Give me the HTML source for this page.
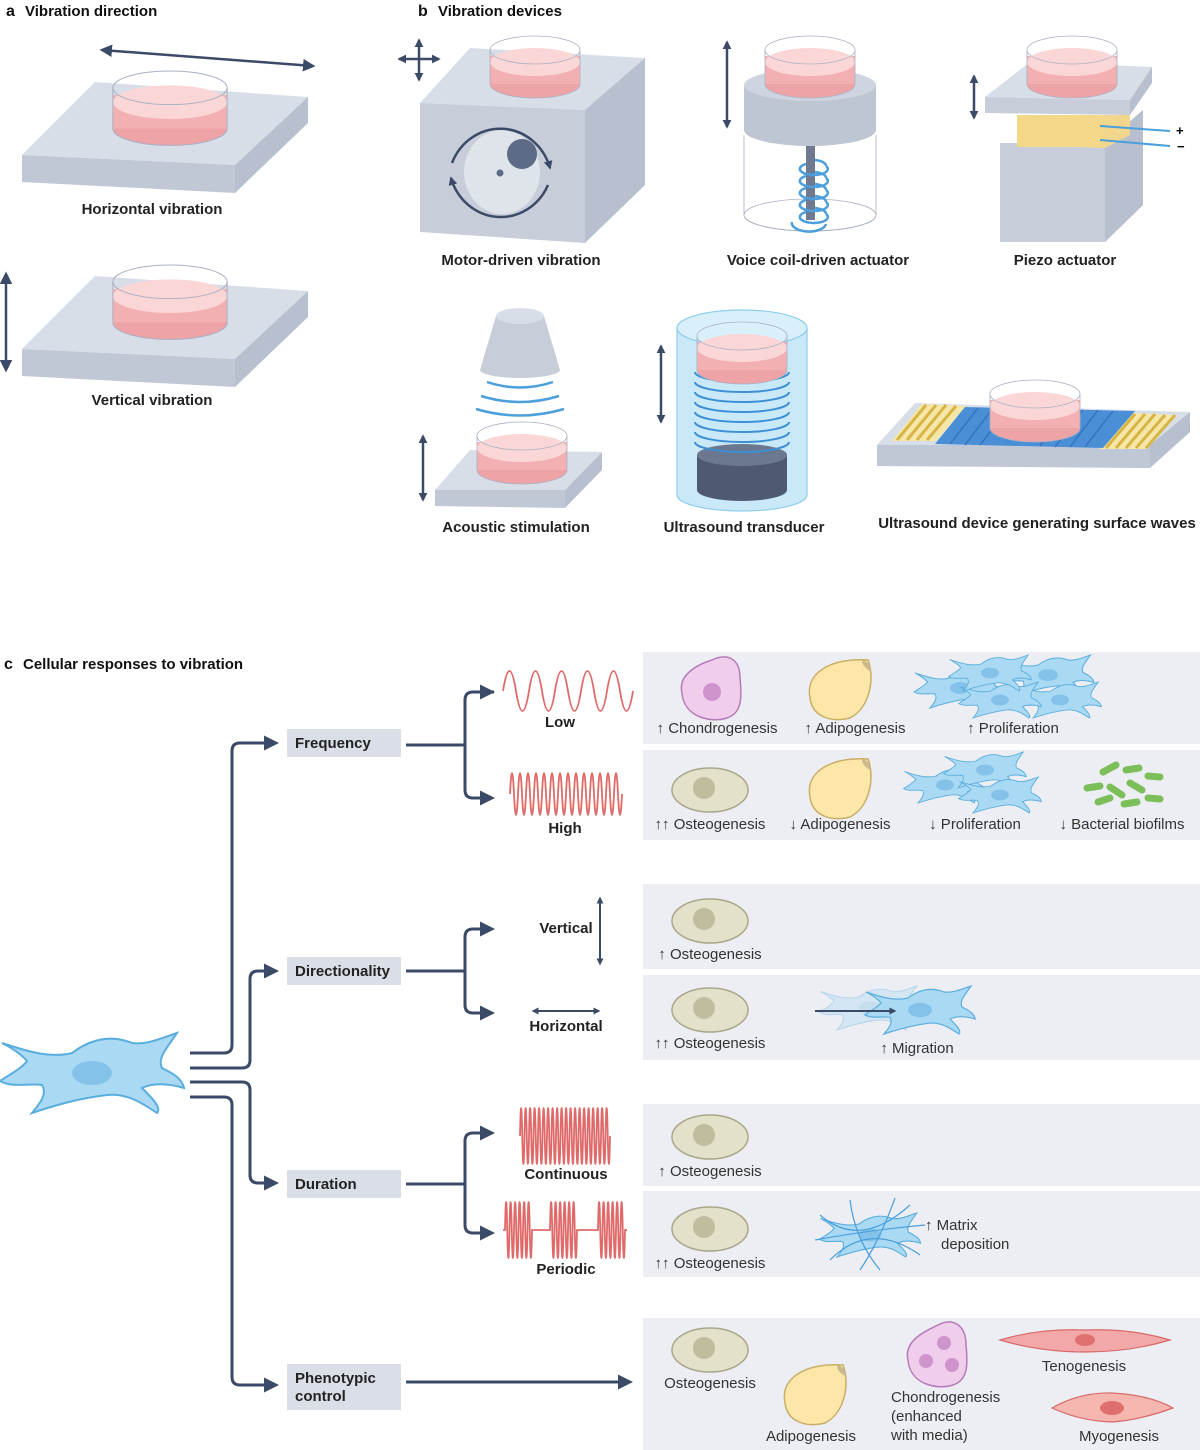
<!DOCTYPE html>
<html><head><meta charset="utf-8"><style>
html,body{margin:0;padding:0;background:#fff}
svg{display:block}
text{font-family:"Liberation Sans",sans-serif}
.b{font-weight:bold;font-size:15px;fill:#222}
.h{font-weight:bold;font-size:16px;fill:#111}
.l{font-size:15px;fill:#333}
.bx{font-weight:bold;font-size:15px;fill:#222}
</style></head><body>
<svg width="1200" height="1450" viewBox="0 0 1200 1450" xmlns="http://www.w3.org/2000/svg">
<defs>
<marker id="ah" viewBox="0 0 10 10" refX="8" refY="5" markerWidth="5" markerHeight="5" orient="auto-start-reverse"><path d="M0,0L10,5L0,10z" fill="#3b4a66"/></marker>
<marker id="am" viewBox="0 0 10 10" refX="8" refY="5" markerWidth="3.5" markerHeight="3.5" orient="auto-start-reverse"><path d="M0,0L10,5L0,10z" fill="#3b4a66"/></marker>
<g id="dish">
<ellipse cx="0" cy="28" rx="45" ry="14" fill="#eea3a6"/>
<rect x="-45" y="0" width="90" height="28" fill="#f2b0b2"/>
<ellipse cx="0" cy="6" rx="45" ry="14" fill="#fbd6d6"/>
<path d="M-45,-6 V28 A45,14 0 0 0 45,28 V-6" fill="none" stroke="#a9b0c4" stroke-width="0.8"/>
<ellipse cx="0" cy="-6" rx="45" ry="14" fill="none" stroke="#a9b0c4" stroke-width="0.8"/>
</g>
<g id="fib">
<path d="M-90,-30 C-60,-20 -40,-15 -20,-20 C0,-35 20,-38 40,-30 C55,-28 70,-35 85,-40 C75,-25 65,-15 70,-5 C80,0 90,5 92,15 C75,10 60,10 50,15 C60,25 70,35 65,40 C50,30 35,20 15,22 C-10,25 -30,30 -60,40 C-50,28 -45,20 -50,12 C-65,10 -80,15 -92,8 C-80,0 -70,-5 -65,-12 C-72,-20 -80,-25 -90,-30 Z" fill="#a9d9f3" stroke="#5aaede" stroke-width="2"/>
<ellipse cx="0" cy="0" rx="20" ry="12" fill="#85c2ea"/>
</g>
<g id="ost"><ellipse cx="0" cy="0" rx="38" ry="22" fill="#e4e1ca" stroke="#aaa78a" stroke-width="1.5"/><circle cx="-6" cy="-2" r="11" fill="#c0bc9e"/></g>
<g id="adi"><path d="M-30,10 C-35,-15 -10,-30 28,-28 C35,-10 30,20 10,30 C-10,35 -28,28 -30,10Z" fill="#fce7a8" stroke="#c9ae66" stroke-width="1.5"/><path d="M22,-28 C28,-27 31,-22 31,-16 C26,-20 22,-22 22,-28Z" fill="#c9b98c"/></g>
<g id="cho"><path d="M-30,5 C-35,-15 -10,-25 0,-28 C15,-35 28,-30 28,-10 C30,10 30,25 15,30 C0,35 -28,30 -30,5Z" fill="#efcdeb" stroke="#b77ab8" stroke-width="1.5"/><circle cx="0" cy="4" r="9" fill="#cf94cc"/></g>
</defs>

<!-- ===== a ===== -->
<text x="6" y="16" class="h">a</text><text x="25" y="16" class="h" style="font-size:15px">Vibration direction</text>
<g>
<polygon points="95,82 308,97 235,165 22,155" fill="#d8dee8"/>
<polygon points="22,155 235,165 235,193 22,182" fill="#c0c7d5"/>
<polygon points="235,165 308,97 308,123 235,193" fill="#b8c0cf"/>
<g transform="translate(170,95) scale(1.27,1.2)"><use href="#dish"/></g>
<line x1="102" y1="50" x2="313" y2="66" stroke="#3b4a66" stroke-width="2.5" marker-start="url(#ah)" marker-end="url(#ah)"/>
<text x="152" y="214" class="b" text-anchor="middle">Horizontal vibration</text>
</g>
<g transform="translate(0,194)">
<polygon points="95,82 308,97 235,165 22,155" fill="#d8dee8"/>
<polygon points="22,155 235,165 235,193 22,182" fill="#c0c7d5"/>
<polygon points="235,165 308,97 308,123 235,193" fill="#b8c0cf"/>
<g transform="translate(170,95) scale(1.27,1.2)"><use href="#dish"/></g>
</g>
<line x1="6" y1="274" x2="6" y2="370" stroke="#3b4a66" stroke-width="2.5" marker-start="url(#ah)" marker-end="url(#ah)"/>
<text x="152" y="405" class="b" text-anchor="middle">Vertical vibration</text>

<!-- ===== b ===== -->
<text x="418" y="16" class="h">b</text><text x="438" y="16" class="h" style="font-size:15px">Vibration devices</text>
<!-- motor -->
<polygon points="420,103 470,48 645,58 585,110" fill="#d8dee8"/>
<polygon points="420,103 585,110 585,243 420,232" fill="#c7cdd9"/>
<polygon points="585,110 645,58 645,185 585,243" fill="#b8c0cf"/>
<ellipse cx="502" cy="172" rx="38" ry="42" fill="#dfe3ea"/>
<circle cx="522" cy="154" r="15" fill="#5d6b86"/>
<circle cx="500" cy="173" r="3.5" fill="#5d6b86"/>
<path d="M452,163 A52,55 0 0 1 550,168" fill="none" stroke="#3b4a66" stroke-width="2.5" marker-end="url(#am)"/>
<path d="M548,185 A52,55 0 0 1 451,178" fill="none" stroke="#3b4a66" stroke-width="2.5" marker-end="url(#am)"/>
<g transform="translate(535,56)"><use href="#dish"/></g>
<line x1="419" y1="40" x2="419" y2="80" stroke="#3b4a66" stroke-width="2.5" marker-start="url(#am)" marker-end="url(#am)"/>
<line x1="399" y1="59" x2="439" y2="59" stroke="#3b4a66" stroke-width="2.5" marker-start="url(#am)" marker-end="url(#am)"/>
<text x="521" y="265" class="b" text-anchor="middle">Motor-driven vibration</text>
<!-- voice coil -->
<path d="M744,135 V215 A66,16 0 0 0 876,215 V135" fill="#fff" stroke="#aab1c3" stroke-width="0.8"/>
<ellipse cx="810" cy="215" rx="66" ry="16" fill="none" stroke="#aab1c3" stroke-width="0.8"/>
<rect x="806" y="145" width="9" height="75" fill="#6f7a90"/>
<g fill="none" stroke="#4a9fdc" stroke-width="2.5">
<path d="M806,164 A14,6 0 1 0 826,166 M806,176 A14,6 0 1 0 826,178 M806,188 A14,6 0 1 0 826,190 M806,200 A14,6 0 1 0 826,202 M806,212 A14,6 0 1 0 826,214"/>
<path d="M815,160 A14,6 0 0 1 826,166 M815,172 A14,6 0 0 1 826,178 M815,184 A14,6 0 0 1 826,190 M815,196 A14,6 0 0 1 826,202 M815,208 A14,6 0 0 1 826,214"/>
<path d="M792,222 A16,8 0 0 0 826,224"/>
</g>
<path d="M744,85 V130 A66,16 0 0 0 876,130 V85Z" fill="#bec5d3"/>
<ellipse cx="810" cy="85" rx="66" ry="16" fill="#cfd5e0"/>
<g transform="translate(810,56)"><use href="#dish"/></g>
<line x1="727" y1="42" x2="727" y2="127" stroke="#3b4a66" stroke-width="2.5" marker-start="url(#am)" marker-end="url(#am)"/>
<text x="818" y="265" class="b" text-anchor="middle">Voice coil-driven actuator</text>
<!-- piezo -->
<polygon points="1000,143 1105,143 1143,110 1143,205 1105,242 1000,242" fill="#c0c7d5"/>
<rect x="1000" y="143" width="105" height="99" fill="#c7cdd9"/>
<polygon points="1105,143 1143,110 1143,205 1105,242" fill="#b8c0cf"/>
<polygon points="1017,115 1118,115 1130,105 1130,135 1105,148 1017,145" fill="#f1d68c"/>
<rect x="1017" y="115" width="88" height="32" fill="#f3d88a"/>
<polygon points="1030,62 1152,67 1130,100 985,97" fill="#d8dee8"/>
<polygon points="985,97 1130,100 1130,115 985,113" fill="#c7cdd9"/>
<polygon points="1130,100 1152,67 1152,83 1130,115" fill="#b8c0cf"/>
<line x1="1100" y1="126" x2="1170" y2="131" stroke="#4a9fdc" stroke-width="2"/>
<line x1="1100" y1="140" x2="1170" y2="146" stroke="#4a9fdc" stroke-width="2"/>
<text x="1176" y="135" style="font-size:13px;font-weight:bold">+</text>
<text x="1177" y="151" style="font-size:13px;font-weight:bold">−</text>
<g transform="translate(1072,56)"><use href="#dish"/></g>
<line x1="974" y1="76" x2="974" y2="118" stroke="#3b4a66" stroke-width="2.5" marker-start="url(#am)" marker-end="url(#am)"/>
<text x="1065" y="265" class="b" text-anchor="middle">Piezo actuator</text>
<!-- acoustic -->
<path d="M496,316 L480,370 A40,8 0 0 0 560,370 L544,316Z" fill="#c7cdd9"/>
<ellipse cx="520" cy="316" rx="24" ry="8" fill="#d8dee8"/>
<path d="M487,382 Q520,393 553,382 M481,396 Q520,408 559,396 M476,409 Q520,422 564,409" fill="none" stroke="#4a9fdc" stroke-width="2.5"/>
<polygon points="470,450 602,452 565,490 435,490" fill="#d8dee8"/>
<polygon points="435,490 565,490 565,508 435,506" fill="#c0c7d5"/>
<polygon points="565,490 602,452 602,470 565,508" fill="#b8c0cf"/>
<g transform="translate(522,442)"><use href="#dish"/></g>
<line x1="423" y1="436" x2="423" y2="500" stroke="#3b4a66" stroke-width="2.5" marker-start="url(#am)" marker-end="url(#am)"/>
<text x="516" y="532" class="b" text-anchor="middle">Acoustic stimulation</text>
<!-- ultrasound transducer -->
<path d="M677,328 V495 A65,16 0 0 0 807,495 V328Z" fill="#c9e9f8" stroke="#8fcdee" stroke-width="1.2"/>
<ellipse cx="742" cy="328" rx="65" ry="18" fill="#d9f0fb" stroke="#8fcdee" stroke-width="1.2"/>
<path d="M697,455 V490 A45,11 0 0 0 787,490 V455Z" fill="#4f5a72"/>
<ellipse cx="742" cy="455" rx="45" ry="11" fill="#6c7890"/>
<g fill="none" stroke="#3d8fd6" stroke-width="2">
<path d="M695,372 A47,10 0 0 0 789,372"/><path d="M695,382 A47,10 0 0 0 789,382"/><path d="M695,392 A47,10 0 0 0 789,392"/><path d="M695,402 A47,10 0 0 0 789,402"/><path d="M695,412 A47,10 0 0 0 789,412"/><path d="M695,422 A47,10 0 0 0 789,422"/><path d="M695,432 A47,10 0 0 0 789,432"/><path d="M695,442 A47,10 0 0 0 789,442"/>
</g>
<g transform="translate(742,342)"><use href="#dish"/></g>
<line x1="661" y1="346" x2="661" y2="422" stroke="#3b4a66" stroke-width="2.5" marker-start="url(#am)" marker-end="url(#am)"/>
<text x="744" y="532" class="b" text-anchor="middle">Ultrasound transducer</text>
<!-- surface wave -->
<polygon points="915,403 1190,412 1150,445 877,445" fill="#d8dee8"/>
<polygon points="877,445 1150,445 1150,468 877,466" fill="#c0c7d5"/>
<polygon points="1150,445 1190,412 1190,432 1150,468" fill="#b8c0cf"/>
<g fill="#f6e7a8"><polygon points="892,441 922,404 966,406 936,441"/><polygon points="1100,449 1130,413 1176,415 1146,449"/></g>
<g stroke="#d7b545" stroke-width="3"><line x1="897" y1="440" x2="926" y2="405"/><line x1="907" y1="440" x2="936" y2="405"/><line x1="917" y1="440" x2="946" y2="405"/><line x1="927" y1="440" x2="956" y2="406"/><line x1="1106" y1="448" x2="1135" y2="414"/><line x1="1116" y1="448" x2="1145" y2="414"/><line x1="1126" y1="448" x2="1155" y2="414"/><line x1="1136" y1="448" x2="1165" y2="415"/><line x1="1146" y1="448" x2="1175" y2="415"/></g>
<polygon points="935,444 965,407 1135,411 1103,448" fill="#4a8fd6"/>
<g stroke="#2f6fb8" stroke-width="1.2"><line x1="950" y1="444" x2="978" y2="408"/><line x1="965" y1="445" x2="993" y2="408"/><line x1="980" y1="445" x2="1008" y2="409"/><line x1="1040" y1="446" x2="1068" y2="410"/><line x1="1055" y1="447" x2="1083" y2="410"/><line x1="1070" y1="447" x2="1098" y2="410"/><line x1="1085" y1="447" x2="1113" y2="411"/></g>
<g transform="translate(1035,400)"><use href="#dish"/></g>
<text x="1037" y="528" class="b" text-anchor="middle">Ultrasound device generating surface waves</text>

<!-- ===== c ===== -->
<text x="4" y="669" class="h">c</text><text x="23" y="669" class="h" style="font-size:15px">Cellular responses to vibration</text>
<g fill="#eceef3">
<rect x="643" y="652" width="557" height="92"/><rect x="643" y="750" width="557" height="90"/>
<rect x="643" y="884" width="557" height="85"/><rect x="643" y="975" width="557" height="85"/>
<rect x="643" y="1104" width="557" height="82"/><rect x="643" y="1191" width="557" height="86"/>
<rect x="643" y="1318" width="557" height="132"/>
</g>
<g transform="translate(92,1073)"><use href="#fib"/></g>
<g fill="none" stroke="#3b4a66" stroke-width="3">
<path d="M190,1053 H224 Q232,1053 232,1045 V751 Q232,743 240,743 H276" marker-end="url(#ah)"/>
<path d="M190,1068 H242 Q250,1068 250,1060 V979 Q250,971 258,971 H276" marker-end="url(#ah)"/>
<path d="M190,1082 H242 Q250,1082 250,1090 V1175 Q250,1183 258,1183 H276" marker-end="url(#ah)"/>
<path d="M190,1097 H224 Q232,1097 232,1105 V1377 Q232,1385 240,1385 H276" marker-end="url(#ah)"/>
<path d="M406,745 H465"/><path d="M494,692 H473 Q465,692 465,700 V790 Q465,798 473,798 H492" marker-end="url(#ah)"/><path d="M473,692 H492" marker-end="url(#ah)"/>
<path d="M406,971 H465"/><path d="M473,929 Q465,929 465,937 V1005 Q465,1013 473,1013 H492" marker-end="url(#ah)"/><path d="M473,929 H492" marker-end="url(#ah)"/>
<path d="M406,1184 H465"/><path d="M473,1133 Q465,1133 465,1141 V1225 Q465,1233 473,1233 H492" marker-end="url(#ah)"/><path d="M473,1133 H492" marker-end="url(#ah)"/>
<path d="M406,1382 H630" marker-end="url(#ah)"/>
</g>
<g fill="#d9dee7">
<rect x="287" y="729" width="114" height="28"/><rect x="287" y="957" width="114" height="28"/>
<rect x="287" y="1170" width="114" height="28"/><rect x="287" y="1364" width="114" height="46"/>
</g>
<text x="295" y="748" class="bx">Frequency</text>
<text x="295" y="976" class="bx">Directionality</text>
<text x="295" y="1189" class="bx">Duration</text>
<text x="295" y="1383" class="bx">Phenotypic</text><text x="295" y="1401" class="bx">control</text>
<g fill="none" stroke="#e06a6a" stroke-width="1.8">
<path d="M503,691 q6.5,-40 13,0 t13,0 t13,0 t13,0 t13,0 t13,0 t13,0 t13,0 t13,0 t13,0"/>
<path d="M510,794 q2,-42 4,0 t4,0 t4,0 t4,0 t4,0 t4,0 t4,0 t4,0 t4,0 t4,0 t4,0 t4,0 t4,0 t4,0 t4,0 t4,0 t4,0 t4,0 t4,0 t4,0 t4,0 t4,0 t4,0 t4,0 t4,0 t4,0 t4,0 t4,0"/>
<path d="M520,1136 q1.1,-56 2.25,0 t2.25,0 t2.25,0 t2.25,0 t2.25,0 t2.25,0 t2.25,0 t2.25,0 t2.25,0 t2.25,0 t2.25,0 t2.25,0 t2.25,0 t2.25,0 t2.25,0 t2.25,0 t2.25,0 t2.25,0 t2.25,0 t2.25,0 t2.25,0 t2.25,0 t2.25,0 t2.25,0 t2.25,0 t2.25,0 t2.25,0 t2.25,0 t2.25,0 t2.25,0 t2.25,0 t2.25,0 t2.25,0 t2.25,0 t2.25,0 t2.25,0 t2.25,0 t2.25,0 t2.25,0 t2.25,0"/>
<path d="M503,1230 h2 q1.1,-56 2.25,0 t2.25,0 t2.25,0 t2.25,0 t2.25,0 t2.25,0 t2.25,0 t2.25,0 t2.25,0 t2.25,0 t2.25,0 t2.25,0 h18 q1.1,-56 2.25,0 t2.25,0 t2.25,0 t2.25,0 t2.25,0 t2.25,0 t2.25,0 t2.25,0 t2.25,0 t2.25,0 t2.25,0 t2.25,0 h21 q1.1,-56 2.25,0 t2.25,0 t2.25,0 t2.25,0 t2.25,0 t2.25,0 t2.25,0 t2.25,0 t2.25,0 t2.25,0 t2.25,0 t2.25,0 h2"/>
</g>
<text x="560" y="727" class="b" text-anchor="middle">Low</text>
<text x="565" y="833" class="b" text-anchor="middle">High</text>
<text x="566" y="1179" class="b" text-anchor="middle">Continuous</text>
<text x="566" y="1274" class="b" text-anchor="middle">Periodic</text>
<line x1="600" y1="898" x2="600" y2="964" stroke="#3b4a66" stroke-width="2" marker-start="url(#am)" marker-end="url(#am)"/>
<text x="566" y="933" class="b" text-anchor="middle">Vertical</text>
<line x1="533" y1="1011" x2="599" y2="1011" stroke="#3b4a66" stroke-width="2" marker-start="url(#am)" marker-end="url(#am)"/>
<text x="566" y="1031" class="b" text-anchor="middle">Horizontal</text>

<g transform="translate(712,688)"><use href="#cho"/></g>
<g transform="translate(840,688)"><use href="#adi"/></g>
<g transform="translate(960,688) scale(0.5)"><use href="#fib"/></g>
<g transform="translate(1048,675) scale(0.5)"><use href="#fib"/></g>
<g transform="translate(1060,700) scale(0.45)"><use href="#fib"/></g>
<g transform="translate(1000,700) scale(0.45)"><use href="#fib"/></g>
<g transform="translate(990,673) scale(0.45)"><use href="#fib"/></g>
<text x="717" y="733" class="l" text-anchor="middle">↑ Chondrogenesis</text>
<text x="855" y="733" class="l" text-anchor="middle">↑ Adipogenesis</text>
<text x="1013" y="733" class="l" text-anchor="middle">↑ Proliferation</text>
<g transform="translate(710,790)"><use href="#ost"/></g>
<g transform="translate(840,787)"><use href="#adi"/></g>
<g transform="translate(945,785) scale(0.45)"><use href="#fib"/></g>
<g transform="translate(985,770) scale(0.45)"><use href="#fib"/></g>
<g transform="translate(1000,795) scale(0.45)"><use href="#fib"/></g>
<g stroke="#7cbf5a" stroke-width="7" stroke-linecap="round">
<line x1="1103" y1="772" x2="1116" y2="765"/><line x1="1126" y1="770" x2="1139" y2="768"/><line x1="1148" y1="776" x2="1160" y2="777"/><line x1="1087" y1="788" x2="1100" y2="786"/><line x1="1110" y1="787" x2="1122" y2="795"/><line x1="1130" y1="783" x2="1142" y2="790"/><line x1="1098" y1="802" x2="1110" y2="798"/><line x1="1124" y1="804" x2="1137" y2="802"/><line x1="1148" y1="798" x2="1160" y2="799"/>
</g>
<text x="710" y="829" class="l" text-anchor="middle">↑↑ Osteogenesis</text>
<text x="840" y="829" class="l" text-anchor="middle">↓ Adipogenesis</text>
<text x="975" y="829" class="l" text-anchor="middle">↓ Proliferation</text>
<text x="1122" y="829" class="l" text-anchor="middle">↓ Bacterial biofilms</text>
<g transform="translate(710,921)"><use href="#ost"/></g>
<text x="710" y="959" class="l" text-anchor="middle">↑ Osteogenesis</text>
<g transform="translate(710,1010)"><use href="#ost"/></g>
<text x="710" y="1048" class="l" text-anchor="middle">↑↑ Osteogenesis</text>
<g opacity="0.35" transform="translate(870,1008) scale(0.55)"><use href="#fib"/></g>
<g transform="translate(920,1010) scale(0.6)"><use href="#fib"/></g>
<line x1="815" y1="1011" x2="895" y2="1011" stroke="#3b4a66" stroke-width="2" marker-end="url(#am)"/>
<text x="917" y="1053" class="l" text-anchor="middle">↑ Migration</text>
<g transform="translate(710,1137)"><use href="#ost"/></g>
<text x="710" y="1176" class="l" text-anchor="middle">↑ Osteogenesis</text>
<g transform="translate(710,1229)"><use href="#ost"/></g>
<text x="710" y="1268" class="l" text-anchor="middle">↑↑ Osteogenesis</text>
<g transform="translate(870,1235) scale(0.55)"><use href="#fib"/></g>
<g fill="none" stroke="#4a9fdc" stroke-width="1.2">
<path d="M820,1215 Q860,1250 910,1205"/><path d="M830,1260 Q870,1220 920,1255"/><path d="M850,1200 Q855,1240 880,1270"/><path d="M895,1198 Q880,1240 860,1270"/><path d="M815,1240 Q870,1230 925,1225"/>
</g>
<text x="925" y="1230" class="l">↑ Matrix</text>
<text x="941" y="1249" class="l">deposition</text>
<g transform="translate(710,1350)"><use href="#ost"/></g>
<text x="710" y="1388" class="l" text-anchor="middle">Osteogenesis</text>
<g transform="translate(815,1393)"><use href="#adi"/></g>
<text x="811" y="1441" class="l" text-anchor="middle">Adipogenesis</text>
<g transform="translate(938,1355)"><path d="M-30,5 C-35,-15 -10,-25 0,-30 C15,-38 28,-30 28,-10 C30,10 30,25 15,30 C0,35 -28,30 -30,5Z" fill="#efcdeb" stroke="#b77ab8" stroke-width="1.5"/><circle cx="6" cy="-12" r="7" fill="#cf94cc"/><circle cx="-12" cy="6" r="7" fill="#cf94cc"/><circle cx="14" cy="10" r="7" fill="#cf94cc"/></g>
<text x="891" y="1402" class="l">Chondrogenesis</text>
<text x="891" y="1421" class="l">(enhanced</text>
<text x="891" y="1440" class="l">with media)</text>
<path d="M1000,1340 Q1040,1328 1085,1330 Q1130,1328 1170,1340 Q1130,1352 1085,1352 Q1040,1352 1000,1340Z" fill="#f2a8a8" stroke="#d86a6a" stroke-width="1.2"/>
<ellipse cx="1085" cy="1340" rx="10" ry="6" fill="#e07070"/>
<text x="1084" y="1371" class="l" text-anchor="middle">Tenogenesis</text>
<path d="M1052,1408 Q1080,1392 1112,1393 Q1150,1395 1173,1408 Q1140,1420 1112,1422 Q1080,1421 1052,1408Z" fill="#f6b6b0" stroke="#d86a6a" stroke-width="1.2"/>
<ellipse cx="1112" cy="1408" rx="12" ry="7" fill="#e07070"/>
<text x="1119" y="1441" class="l" text-anchor="middle">Myogenesis</text>
</svg>
</body></html>
